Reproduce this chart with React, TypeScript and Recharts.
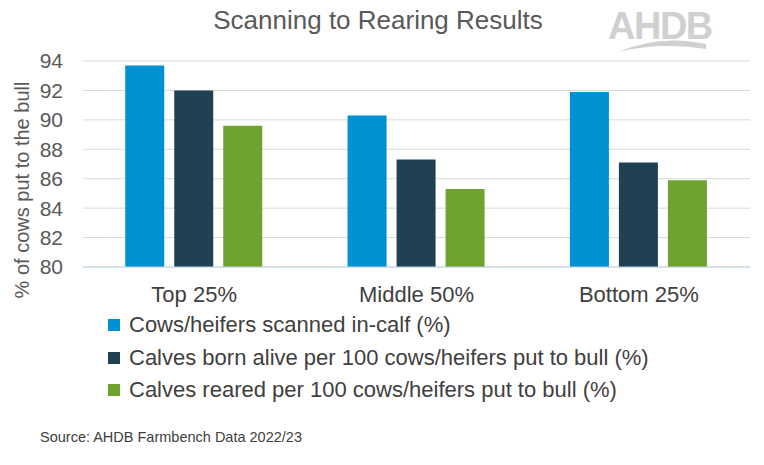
import { BarChart, Bar, XAxis, YAxis, CartesianGrid } from 'recharts';

const categories = ['Top 25%', 'Middle 50%', 'Bottom 25%'];
const scannedInCalf = [93.7, 90.3, 91.9];
const bornAlive = [92.0, 87.3, 87.1];
const reared = [89.6, 85.3, 85.9];
const yTicks = [80, 82, 84, 86, 88, 90, 92, 94];

const SERIES = [
  { key: 'scanned', name: 'Cows/heifers scanned in-calf (%)', color: '#0090D4' },
  { key: 'born', name: 'Calves born alive per 100 cows/heifers put to bull (%)', color: '#1F4151' },
  { key: 'reared', name: 'Calves reared per 100 cows/heifers put to bull (%)', color: '#6FA22E' },
];

const data = categories.map((name, i) => ({
  name,
  scanned: scannedInCalf[i],
  born: bornAlive[i],
  reared: reared[i],
}));

const FONT = 'Arial, "Liberation Sans", sans-serif';

export default function App() {
  return (
    <div style={{ position: 'absolute', left: 0, top: 0, width: 764, height: 465, background: '#fff', fontFamily: FONT }}>
      <div style={{ position: 'absolute', left: 0, width: 756, top: 5, textAlign: 'center', fontSize: 26, color: '#595959' }}>
        Scanning to Rearing Results
      </div>

      {/* logo */}
      <svg style={{ position: 'absolute', left: 600, top: 4 }} width={120} height={52}>
        <text x={8} y={35} fontSize={38} fontWeight="bold" fill="#d0d0d0" fontFamily={FONT} letterSpacing={-1.5}>AHDB</text>
        <path d="M 18 48 Q 60 30 106 40 L 106 45 Q 60 38 18 48 Z" fill="#d0d0d0" />
      </svg>

      <div style={{ position: 'absolute', left: 22, top: 190, transform: 'translate(-50%, -50%) rotate(-90deg)', whiteSpace: 'nowrap', fontSize: 20, color: '#595959' }}>
        % of cows put to the bull
      </div>

      <BarChart
        width={764}
        height={465}
        data={data}
        margin={{ top: 61, right: 14, left: 33, bottom: 168 }}
        barCategoryGap="19%"
        barGap={10}
      >
        <CartesianGrid vertical={false} stroke="#d9d9d9" />
        <XAxis
          dataKey="name"
          height={30}
          axisLine={{ stroke: '#BDD7EE' }}
          tickLine={false}
          tickMargin={13}
          tick={{ fontSize: 22, fill: '#404040', fontFamily: FONT }}
        />
        <YAxis
          width={50}
          domain={[80, 94]}
          ticks={yTicks}
          interval={0}
          axisLine={false}
          tickLine={false}
          tickMargin={14}
          tick={{ fontSize: 21, fill: '#595959', fontFamily: FONT }}
        />
        {SERIES.map((s) => (
          <Bar key={s.key} dataKey={s.key} name={s.name} fill={s.color} isAnimationActive={false} />
        ))}
      </BarChart>

      <div style={{ position: 'absolute', left: 108, top: 309 }}>
        {SERIES.map((s) => (
          <div key={s.key} style={{ display: 'flex', alignItems: 'center', height: 32.5, fontSize: 22, color: '#404040' }}>
            <span style={{ width: 12, height: 12, background: s.color, marginRight: 9, display: 'inline-block' }} />
            {s.name}
          </div>
        ))}
      </div>

      <div style={{ position: 'absolute', left: 40, top: 429, fontSize: 14.5, color: '#404040' }}>
        Source: AHDB Farmbench Data 2022/23
      </div>
    </div>
  );
}
